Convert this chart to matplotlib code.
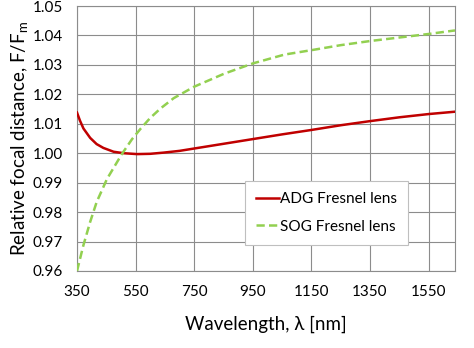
import matplotlib.pyplot as plt

# ADG Fresnel lens (red)
wl_adg = [350, 360, 372, 395, 417, 440, 475, 510, 555, 600, 645, 700, 750, 850, 950,
          1050, 1150, 1250, 1350, 1450, 1550, 1640]
f_adg = [1.0138, 1.0111, 1.0084, 1.0052, 1.0031, 1.0018, 1.0005, 1.0000, 0.9997, 0.9998,
         1.0002, 1.0008, 1.0016, 1.0032, 1.0048, 1.0064, 1.0079, 1.0095, 1.0109, 1.0122,
         1.0133, 1.0141]

# SOG Fresnel lens (green, dashed)
wl_sog = [350, 372, 395, 417, 452, 503, 538, 566, 600, 635, 680, 750, 852, 950, 1058,
          1150, 1250, 1350, 1450, 1550, 1640]
f_sog = [0.960, 0.9688, 0.9767, 0.9834, 0.9912, 0.9997, 1.0048, 1.0082, 1.0120, 1.0152,
         1.0187, 1.0226, 1.0270, 1.0305, 1.0335, 1.0350, 1.0367, 1.0381, 1.0393, 1.0405,
         1.0417]

xticks = [350, 550, 750, 950, 1150, 1350, 1550]
yticks = [0.96, 0.97, 0.98, 0.99, 1.00, 1.01, 1.02, 1.03, 1.04, 1.05]

plt.rcParams['font.family'] = ['Lato', 'DejaVu Sans']

fig = plt.figure(figsize=(4.74, 3.48), dpi=100)
ax = fig.add_axes([77/474, 1 - 271/348, (455-77)/474, (271-6)/348])

ax.plot(wl_adg, f_adg, color='#C00000', lw=1.8, label='ADG Fresnel lens', zorder=3)
ax.plot(wl_sog, f_sog, color='#92D050', lw=1.8, ls=(0, (3.3, 1.7)), label='SOG Fresnel lens', zorder=3)

ax.set_xlim(350, 1640)
ax.set_ylim(0.96, 1.05)
ax.set_xticks(xticks)
ax.set_yticks(yticks)
ax.set_yticklabels(['%.2f' % v for v in yticks])
ax.tick_params(length=0, labelsize=11, pad=10)
ax.grid(True, color='#8c8c8c', lw=0.8)
for s in ax.spines.values():
    s.set_color('#8c8c8c')
    s.set_linewidth(0.8)

ax.set_xlabel('Wavelength, λ [nm]', fontsize=13.5, labelpad=12)
ax.set_ylabel('Relative focal distance, F/F$_\\mathregular{m}$', fontsize=13.5, labelpad=1)

leg = ax.legend(loc='center', bbox_to_anchor=(0.439, 0.121, 0.442, 0.196), fontsize=11,
                frameon=True, fancybox=False, edgecolor='#bfbfbf', handlelength=1.5,
                handletextpad=0.1, borderpad=0.7, labelspacing=0.9, borderaxespad=0,
                framealpha=1)
leg.get_frame().set_linewidth(0.8)

plt.savefig('out.png', dpi=100)
